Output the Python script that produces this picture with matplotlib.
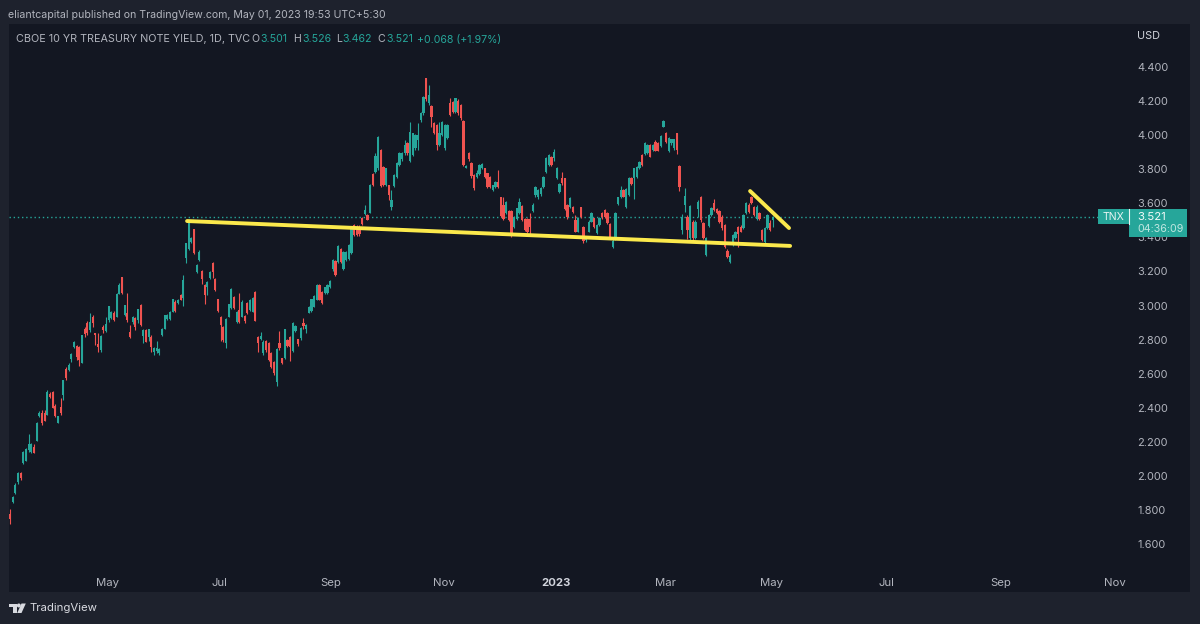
#TNX DAILY CANDLES, TRADINGVIEW DARK THEME
import numpy as np
import matplotlib
matplotlib.use("Agg")
import matplotlib.pyplot as plt
from matplotlib.patches import Rectangle, Polygon, Circle

plt.rcParams["font.family"] = ["Inter", "DejaVu Sans"]

COLOR_FONDO = "#1e222d"
COLOR_PANEL = "#131722"
COLOR_VERDE = "#26a69a"
COLOR_ROJO  = "#ef5350"
COLOR_TEXTO = "#b2b5be"
COLOR_LINEA = "#fbe94c"

#--- DATOS ---
open_ = np.array([
    1.775, 1.847, 1.90, 1.967, 2.02, 2.074, 2.09, 2.15, 2.14, 2.17,
    2.207, 2.35, 2.368, 2.37, 2.36, 2.48, 2.495, 2.41, 2.313, 2.407,
    2.475, 2.63, 2.622, 2.685, 2.755, 2.76, 2.755, 2.665, 2.865, 2.895,
    2.857, 2.935, 2.84, 2.775, 2.74, 2.875, 2.853, 2.915, 2.925, 2.958,
    2.935, 3.07, 3.165, 2.945, 2.955, 2.847, 2.905, 2.925, 2.915, 3.003,
    2.82, 2.857, 2.818, 2.817, 2.73, 2.735, 2.72, 2.827, 2.865, 2.92,
    2.92, 2.965, 3.022, 3.013, 3.062, 3.045, 3.277, 3.33, 3.375, 3.447,
    3.199, 3.268, 3.205, 3.121, 3.111, 3.16, 3.252, 3.154, 3.037, 2.935,
    2.876, 2.779, 2.935, 2.984, 3.052, 2.906, 2.974, 2.935, 2.939, 3.013,
    2.974, 2.964, 3.082, 2.818, 2.802, 2.72, 2.794, 2.779, 2.72, 2.671,
    2.554, 2.783, 2.69, 2.69, 2.798, 2.814, 2.736, 2.853, 2.802, 2.808,
    2.90, 2.861, 2.959, 2.97, 2.994, 3.033, 3.121, 3.082, 3.076, 3.072,
    3.111, 3.213, 3.264, 3.258, 3.33, 3.213, 3.268, 3.272, 3.307, 3.473,
    3.463, 3.463, 3.512, 3.537, 3.53, 3.545, 3.772, 3.785, 3.805, 3.912,
    3.815, 3.707, 3.707, 3.58, 3.70, 3.756, 3.825, 3.858, 3.893, 3.952,
    3.85, 3.883, 3.922, 3.971, 4.089, 4.128, 4.333, 4.186, 4.171, 4.069,
    4.059, 3.942, 4.0, 3.922, 3.981, 4.186, 4.196, 4.138, 4.202, 4.177,
    4.085, 3.81, 3.893, 3.834, 3.766, 3.756, 3.772, 3.805, 3.805, 3.776,
    3.756, 3.678, 3.694, 3.727, 3.635, 3.59, 3.545, 3.557, 3.557, 3.463,
    3.51, 3.541, 3.584, 3.51, 3.51, 3.506, 3.557, 3.648, 3.639, 3.654,
    3.697, 3.785, 3.825, 3.87, 3.864, 3.747, 3.669, 3.747, 3.747, 3.59,
    3.577, 3.577, 3.503, 3.434, 3.577, 3.463, 3.385, 3.434, 3.493, 3.512,
    3.424, 3.473, 3.546, 3.561, 3.546, 3.479, 3.346, 3.39, 3.596, 3.635,
    3.679, 3.581, 3.649, 3.747, 3.747, 3.757, 3.806, 3.884, 3.89, 3.894,
    3.943, 3.913, 3.962, 3.956, 3.937, 4.05, 4.015, 3.909, 3.952, 3.923,
    4.011, 3.82, 3.444, 3.59, 3.522, 3.395, 3.493, 3.395, 3.565, 3.64,
    3.483, 3.297, 3.467, 3.532, 3.60, 3.565, 3.557, 3.522, 3.473, 3.323,
    3.258, 3.356, 3.395, 3.46, 3.46, 3.454, 3.542, 3.59, 3.64, 3.577,
    3.507, 3.542, 3.444, 3.375, 3.454, 3.487, 3.501,
])
high = np.array([
    1.808, 1.88, 1.957, 2.025, 2.025, 2.145, 2.165, 2.246, 2.195, 2.185,
    2.315, 2.38, 2.39, 2.39, 2.505, 2.49, 2.50, 2.42, 2.35, 2.455,
    2.565, 2.637, 2.665, 2.72, 2.79, 2.77, 2.763, 2.83, 2.875, 2.91,
    2.955, 2.945, 2.84, 2.837, 2.825, 2.885, 2.935, 3.00, 2.97, 2.97,
    3.075, 3.13, 3.17, 3.005, 3.075, 2.885, 2.94, 2.935, 2.98, 3.012,
    2.86, 2.865, 2.865, 2.83, 2.755, 2.79, 2.75, 2.87, 2.945, 2.95,
    2.97, 3.04, 3.03, 3.04, 3.07, 3.18, 3.37, 3.50, 3.40, 3.45,
    3.245, 3.325, 3.21, 3.127, 3.145, 3.205, 3.258, 3.16, 3.04, 2.94,
    2.88, 2.925, 3.012, 3.105, 3.058, 2.97, 3.072, 3.03, 2.945, 3.02,
    3.04, 3.05, 3.085, 2.822, 2.847, 2.795, 2.80, 2.785, 2.725, 2.675,
    2.75, 2.853, 2.695, 2.865, 2.803, 2.82, 2.905, 2.885, 2.806, 2.875,
    2.925, 2.89, 3.0, 3.04, 3.06, 3.125, 3.125, 3.086, 3.11, 3.125,
    3.15, 3.275, 3.268, 3.355, 3.335, 3.32, 3.32, 3.36, 3.46, 3.48,
    3.47, 3.47, 3.52, 3.59, 3.535, 3.713, 3.78, 3.893, 3.995, 3.92,
    3.82, 3.81, 3.71, 3.678, 3.77, 3.84, 3.90, 3.90, 3.971, 3.96,
    4.079, 4.015, 4.005, 4.069, 4.135, 4.23, 4.335, 4.294, 4.175, 4.075,
    4.065, 4.079, 4.085, 4.065, 4.065, 4.22, 4.20, 4.22, 4.21, 4.18,
    4.09, 3.825, 3.90, 3.84, 3.77, 3.795, 3.83, 3.835, 3.81, 3.78,
    3.76, 3.71, 3.73, 3.795, 3.64, 3.639, 3.615, 3.56, 3.56, 3.525,
    3.575, 3.629, 3.59, 3.515, 3.515, 3.545, 3.60, 3.70, 3.685, 3.695,
    3.76, 3.87, 3.89, 3.875, 3.92, 3.815, 3.72, 3.786, 3.75, 3.595,
    3.635, 3.585, 3.532, 3.52, 3.58, 3.465, 3.41, 3.50, 3.55, 3.515,
    3.48, 3.518, 3.55, 3.565, 3.55, 3.485, 3.39, 3.55, 3.64, 3.70,
    3.685, 3.69, 3.755, 3.755, 3.81, 3.82, 3.85, 3.89, 3.96, 3.95,
    3.95, 3.95, 3.97, 3.96, 4.0, 4.09, 4.02, 3.99, 3.98, 3.98,
    4.015, 3.825, 3.54, 3.688, 3.532, 3.59, 3.50, 3.50, 3.62, 3.645,
    3.49, 3.40, 3.54, 3.58, 3.625, 3.57, 3.56, 3.53, 3.48, 3.33,
    3.30, 3.42, 3.44, 3.465, 3.47, 3.54, 3.605, 3.60, 3.645, 3.585,
    3.59, 3.55, 3.45, 3.46, 3.54, 3.50, 3.526,
])
low = np.array([
    1.718, 1.84, 1.894, 1.953, 1.976, 2.07, 2.085, 2.14, 2.135, 2.135,
    2.205, 2.345, 2.30, 2.32, 2.355, 2.46, 2.40, 2.345, 2.31, 2.355,
    2.445, 2.565, 2.615, 2.67, 2.75, 2.68, 2.645, 2.66, 2.818, 2.83,
    2.847, 2.875, 2.77, 2.73, 2.73, 2.84, 2.847, 2.905, 2.92, 2.91,
    2.93, 3.065, 3.07, 2.94, 2.905, 2.807, 2.89, 2.855, 2.90, 2.88,
    2.78, 2.785, 2.79, 2.725, 2.71, 2.72, 2.71, 2.82, 2.86, 2.915,
    2.915, 2.96, 2.965, 3.008, 3.03, 3.0, 3.248, 3.326, 3.365, 3.30,
    3.19, 3.26, 3.127, 3.01, 3.062, 3.155, 3.16, 3.085, 2.965, 2.79,
    2.785, 2.75, 2.93, 2.98, 2.98, 2.90, 2.896, 2.93, 2.895, 2.95,
    2.97, 2.96, 2.908, 2.73, 2.795, 2.71, 2.73, 2.675, 2.635, 2.595,
    2.528, 2.74, 2.655, 2.685, 2.755, 2.677, 2.73, 2.845, 2.76, 2.80,
    2.86, 2.837, 2.955, 2.965, 2.99, 3.03, 3.03, 3.01, 3.07, 3.065,
    3.105, 3.205, 3.175, 3.25, 3.25, 3.21, 3.26, 3.265, 3.30, 3.41,
    3.41, 3.41, 3.475, 3.53, 3.50, 3.541, 3.70, 3.776, 3.795, 3.695,
    3.70, 3.70, 3.62, 3.56, 3.695, 3.75, 3.82, 3.85, 3.883, 3.885,
    3.844, 3.878, 3.915, 3.913, 4.08, 4.12, 4.20, 4.177, 4.05, 4.005,
    3.913, 3.935, 3.995, 3.915, 3.975, 4.11, 4.13, 4.13, 4.12, 4.09,
    3.82, 3.805, 3.85, 3.75, 3.68, 3.746, 3.765, 3.80, 3.75, 3.69,
    3.69, 3.67, 3.69, 3.69, 3.52, 3.505, 3.54, 3.495, 3.40, 3.455,
    3.505, 3.535, 3.495, 3.435, 3.425, 3.42, 3.55, 3.64, 3.623, 3.645,
    3.69, 3.78, 3.82, 3.82, 3.85, 3.74, 3.66, 3.71, 3.56, 3.51,
    3.57, 3.545, 3.43, 3.43, 3.515, 3.37, 3.375, 3.43, 3.49, 3.455,
    3.42, 3.465, 3.51, 3.515, 3.48, 3.39, 3.34, 3.385, 3.59, 3.63,
    3.635, 3.575, 3.645, 3.71, 3.624, 3.75, 3.80, 3.82, 3.885, 3.89,
    3.87, 3.905, 3.905, 3.905, 3.93, 4.045, 3.955, 3.90, 3.945, 3.915,
    3.89, 3.67, 3.42, 3.551, 3.389, 3.385, 3.385, 3.39, 3.52, 3.49,
    3.39, 3.29, 3.46, 3.525, 3.555, 3.535, 3.485, 3.445, 3.335, 3.28,
    3.25, 3.35, 3.39, 3.342, 3.43, 3.45, 3.535, 3.545, 3.595, 3.525,
    3.50, 3.50, 3.38, 3.37, 3.45, 3.44, 3.462,
])
close = np.array([
    1.746, 1.875, 1.947, 2.015, 1.99, 2.14, 2.16, 2.19, 2.19, 2.137,
    2.313, 2.37, 2.31, 2.325, 2.495, 2.465, 2.40, 2.35, 2.35, 2.368,
    2.563, 2.573, 2.65, 2.715, 2.785, 2.70, 2.68, 2.83, 2.836, 2.837,
    2.905, 2.90, 2.827, 2.755, 2.822, 2.857, 2.89, 2.997, 2.965, 2.915,
    3.07, 3.12, 3.075, 3.004, 2.915, 2.818, 2.935, 2.875, 2.978, 2.887,
    2.857, 2.788, 2.86, 2.755, 2.75, 2.75, 2.745, 2.865, 2.945, 2.945,
    2.965, 3.037, 2.97, 3.03, 3.035, 3.15, 3.365, 3.493, 3.395, 3.307,
    3.238, 3.316, 3.154, 3.062, 3.14, 3.199, 3.199, 3.092, 2.97, 2.886,
    2.798, 2.919, 3.01, 3.10, 2.984, 2.964, 2.906, 3.023, 2.912, 2.955,
    3.033, 3.043, 2.912, 2.783, 2.822, 2.788, 2.74, 2.681, 2.642, 2.603,
    2.743, 2.749, 2.661, 2.861, 2.763, 2.759, 2.90, 2.88, 2.773, 2.867,
    2.88, 2.886, 2.994, 3.037, 3.056, 3.121, 3.033, 3.017, 3.107, 3.121,
    3.146, 3.268, 3.18, 3.35, 3.258, 3.316, 3.316, 3.356, 3.453, 3.414,
    3.414, 3.42, 3.479, 3.561, 3.505, 3.707, 3.707, 3.877, 3.99, 3.70,
    3.708, 3.805, 3.648, 3.619, 3.766, 3.834, 3.893, 3.893, 3.942, 3.893,
    4.02, 4.01, 4.0, 4.0, 4.128, 4.226, 4.21, 4.235, 4.108, 4.01,
    3.942, 4.01, 4.079, 4.059, 4.059, 4.118, 4.138, 4.216, 4.128, 4.098,
    3.825, 3.819, 3.858, 3.76, 3.688, 3.776, 3.825, 3.83, 3.756, 3.697,
    3.694, 3.707, 3.727, 3.697, 3.525, 3.51, 3.609, 3.502, 3.414, 3.521,
    3.57, 3.609, 3.502, 3.443, 3.433, 3.463, 3.59, 3.697, 3.678, 3.688,
    3.752, 3.864, 3.884, 3.825, 3.904, 3.806, 3.714, 3.718, 3.565, 3.518,
    3.63, 3.551, 3.434, 3.512, 3.522, 3.381, 3.405, 3.493, 3.542, 3.463,
    3.473, 3.512, 3.518, 3.522, 3.487, 3.395, 3.381, 3.542, 3.635, 3.679,
    3.639, 3.682, 3.747, 3.714, 3.806, 3.815, 3.845, 3.825, 3.956, 3.943,
    3.874, 3.943, 3.909, 3.909, 3.995, 4.085, 3.962, 3.982, 3.976, 3.976,
    3.913, 3.695, 3.522, 3.643, 3.444, 3.585, 3.395, 3.493, 3.61, 3.503,
    3.395, 3.395, 3.532, 3.571, 3.561, 3.542, 3.493, 3.454, 3.342, 3.287,
    3.291, 3.415, 3.434, 3.42, 3.434, 3.532, 3.60, 3.551, 3.60, 3.532,
    3.577, 3.507, 3.385, 3.454, 3.532, 3.444, 3.521,
])

precio_ticks = [1.6, 1.8, 2.0, 2.2, 2.4, 2.6, 2.8, 3.0, 3.2, 3.4, 3.6, 3.8, 4.0, 4.2, 4.4]
fecha_ticks  = [36.7, 78.4, 120.4, 162.7, 204.7, 245.6, 285.4, 328.5, 371.6, 414.3]
fecha_labels = ["May", "Jul", "Sep", "Nov", "2023", "Mar", "May", "Jul", "Sep", "Nov"]

#LINEAS DIBUJADAS A MANO EN EL GRAFICO (BARRA, PRECIO)
soporte_x = [66.4, 292.5]
soporte_y = [3.496, 3.35]
bajista_x = [277.5, 292.1]
bajista_y = [3.672, 3.455]
ultimo    = 3.521

W, H = 1200, 624
fig = plt.figure(figsize=(W / 100, H / 100), dpi=100, facecolor=COLOR_FONDO)

#--- VELAS ---
AX_L, AX_R, AX_T, AX_B = 9, 1190, 24, 568
ax = fig.add_axes([AX_L / W, 1 - AX_B / H, (AX_R - AX_L) / W, (AX_B - AX_T) / H], zorder=1)
ax.patch.set_alpha(0)
ax.set_xlim((AX_L - 10) / 2.667, (AX_R - 10) / 2.667)
ax.set_ylim(4.4 - (AX_B - 67) / 170.4, 4.4 - (AX_T - 67) / 170.4)

#--- PANEL DE FONDO ---
fondo = fig.add_axes([0, 0, 1, 1], zorder=0)
fondo.set_xlim(0, W)
fondo.set_ylim(H, 0)
fondo.axis("off")
fondo.add_patch(Rectangle((9, 24), 1181, 568, color=COLOR_PANEL, lw=0))

x = np.arange(len(close))
colores = np.where(close >= open_, COLOR_VERDE, COLOR_ROJO)
ax.vlines(x, low, high, colors=colores, lw=0.8, zorder=2)
ax.bar(x, np.abs(close - open_), bottom=np.minimum(open_, close), width=0.85,
       color=colores, linewidth=0, zorder=3)

ax.plot([ax.get_xlim()[0], 408], [ultimo, ultimo], color=COLOR_VERDE, lw=1.0, ls=(0, (1, 2)), zorder=1)
ax.plot(soporte_x, soporte_y, color=COLOR_LINEA, lw=2.8, solid_capstyle="round", zorder=4)
ax.plot(bajista_x, bajista_y, color=COLOR_LINEA, lw=2.8, solid_capstyle="round", zorder=4)

ax.yaxis.tick_right()
ax.set_yticks(precio_ticks)
ax.set_yticklabels([f"{p:.3f}" for p in precio_ticks])
ax.set_xticks(fecha_ticks)
ax.set_xticklabels(fecha_labels)
ax.tick_params(axis="y", length=0, pad=-38.2, labelsize=7.9, labelcolor=COLOR_TEXTO)
ax.tick_params(axis="x", length=0, pad=7, labelsize=8.2, labelcolor=COLOR_TEXTO)
ax.get_xticklabels()[4].set_fontweight("bold")
ax.get_xticklabels()[4].set_color("#d1d4dc")
ax.spines[["top", "right", "bottom", "left"]].set_visible(False)

#--- TEXTOS Y ETIQUETAS ---
capa = fig.add_axes([0, 0, 1, 1], zorder=2)
capa.set_xlim(0, W)
capa.set_ylim(H, 0)
capa.axis("off")

capa.text(8, 15.5, "eliantcapital published on TradingView.com, May 01, 2023 19:53 UTC+5:30",
          color=COLOR_TEXTO, fontsize=7.6, va="center")
capa.text(16, 39.5, "CBOE 10 YR TREASURY NOTE YIELD, 1D, TVC", color=COLOR_TEXTO, fontsize=7.75, va="center")
for px, letra, valor in [(251, "O", "3.501"), (293, "H", "3.526"), (336, "L", "3.462"), (377, "C", "3.521")]:
    capa.text(px, 39.5, letra, color=COLOR_TEXTO, fontsize=7.6, va="center")
    capa.text(px + 9.5 if letra != "L" else px + 6.5, 39.5, valor, color=COLOR_VERDE, fontsize=7.6, va="center")
capa.text(417, 39.5, "+0.068 (+1.97%)", color=COLOR_VERDE, fontsize=7.6, va="center")
capa.text(1149, 36, "USD", color="#d1d4dc", fontsize=7.8, va="center", ha="center")

capa.add_patch(Rectangle((1098, 209), 31, 15, color=COLOR_VERDE, lw=0))
capa.add_patch(Rectangle((1129, 209), 58, 28, color=COLOR_VERDE, lw=0))
capa.plot([1128.5, 1128.5], [209, 224], color="#e8f5f3", lw=0.8)
capa.text(1113, 216.5, "TNX", color="#e8f5f3", fontsize=7.6, ha="center", va="center")
capa.text(1137, 216.5, "3.521", color="#f2faf9", fontsize=8.2, va="center")
capa.text(1137, 229.5, "04:36:09", color="#bfe6e0", fontsize=7.7, va="center")

#LOGO DE TRADINGVIEW
BLANCO = "#d8dae0"
capa.add_patch(Polygon([(9, 603.5), (16.8, 603.5), (16.8, 613), (13, 613), (13, 607.3), (9, 607.3)], color=BLANCO, lw=0))
capa.add_patch(Circle((18.8, 605.5), 2, color=BLANCO, lw=0))
capa.add_patch(Polygon([(21.5, 603.5), (25.8, 603.5), (21.5, 613), (17.2, 613)], color=BLANCO, lw=0))
capa.text(29.5, 608, "TradingView", color=BLANCO, fontsize=8.2, va="center")

fig.savefig("out.png", dpi=100, facecolor=fig.get_facecolor())
plt.close()
